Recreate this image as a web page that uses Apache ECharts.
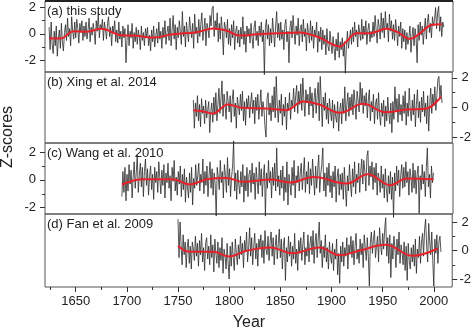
<!DOCTYPE html>
<html><head><meta charset="utf-8">
<script src="https://cdn.jsdelivr.net/npm/echarts@6/dist/echarts.min.js"></script>
<style>html,body{margin:0;padding:0;background:#fff}#c{width:474px;height:329px}</style>
</head><body><div id="c"></div>
<script>
// ---------- data ----------
const xTicks = [1650,1700,1750,1800,1850,1900,1950,2000];
const xMinorTicks = [1625,1675,1725,1775,1825,1875,1925,1975];
const yTicks = [-2,0,2];
const yMinorTicks = [-1,1];
const panelLabels = ['(a) this study','(b) Xing et al. 2014','(c) Wang et al. 2010','(d) Fan et al. 2009'];

const aStart = 1624;
const aVals = [0.5,-1.2,0.9,-0.8,-1.5,0.2,
-0.9,0.6,-1.7,-0.4,0.3,-1.1,0.8,-0.6,-1.3,0.1,
0.7,-0.5,1.2,-0.2,0.4,-0.9,1.3,0.2,-0.4,0.9,
-0.3,1.1,0.4,-0.7,0.8,0.1,1.0,-0.5,0.6,-0.2,
0.9,-0.4,0.3,1.2,-0.6,0.5,-0.1,0.8,0.2,-0.8,
1.0,0.2,1.6,-0.3,0.7,0.4,1.1,-0.5,0.9,0.3,
-0.4,0.8,1.3,-0.2,0.5,-0.9,0.6,0.1,1.0,-0.6,
0.3,-0.7,0.9,-0.4,0.2,-1.0,0.6,-0.3,0.4,-2.2,
-0.5,0.7,-0.9,0.2,-0.3,0.8,-1.1,0.1,-0.6,0.5,
-0.8,0.3,-0.2,-1.2,0.6,-0.5,0.1,-0.9,0.4,-0.3,
0.5,-0.9,-0.1,-1.3,0.3,-0.6,0.6,-1.0,-0.2,0.4,
-0.7,0.9,-0.4,0.2,-1.1,0.5,-0.3,1.0,-0.8,0.1,
0.6,-0.5,1.2,-0.9,0.3,1.4,-0.4,0.7,-1.2,0.5,
-0.3,1.0,0.2,-0.8,1.7,-0.2,0.6,-1.0,0.9,0.1,
-0.6,1.3,0.4,-0.3,0.8,-1.1,1.5,0.0,0.5,-0.7,
1.1,-0.2,0.7,1.6,-0.5,0.3,1.2,-0.9,0.8,0.4,
-0.3,1.4,0.6,1.9,2.1,-0.2,1.0,0.3,1.6,-0.6,
0.8,-0.4,1.3,0.2,-1.6,0.9,0.5,-0.3,1.1,-0.8,
0.4,-0.9,0.7,-0.3,1.0,-1.2,0.2,0.6,-0.7,0.3,
-1.0,0.5,-0.4,1.3,-0.8,0.2,-1.4,0.6,-0.2,0.4,
-0.7,0.8,-0.3,-1.1,0.5,1.0,-0.5,0.2,-0.9,0.6,
-0.2,0.9,-0.6,0.3,-3.1,0.5,1.1,-0.4,0.7,-0.9,
0.4,-0.7,1.2,0.1,-1.0,0.6,1.7,-0.3,0.8,-0.5,
0.9,-0.4,0.3,-1.2,0.7,1.1,-0.6,0.2,-2.2,0.5,
1.0,-0.3,1.4,0.2,-0.8,0.6,-0.1,1.2,-0.9,0.4,
0.7,-0.6,1.1,-0.2,0.4,-1.3,0.8,0.1,-0.7,1.0,
-0.5,0.6,-1.1,0.3,-0.2,0.9,-1.4,0.2,-0.6,0.5,
-1.2,0.3,-0.8,-0.1,-1.6,0.4,-0.9,-1.3,0.2,-0.7,
-1.5,-0.2,-1.1,-2.0,-0.4,-1.3,0.1,-1.8,-0.6,-1.2,
-0.3,-1.7,-0.6,-3.0,-0.9,0.2,-1.1,-0.4,0.3,-0.8,
0.5,-0.6,0.9,-0.2,0.3,-1.0,0.7,0.1,-0.5,1.1,
-0.4,0.6,-0.1,1.0,-0.8,0.3,0.8,-0.6,0.2,-0.3,
0.9,-0.2,1.4,0.3,-0.7,1.1,0.5,-0.4,1.6,0.1,
1.2,-0.3,1.7,0.4,0.8,-0.6,1.5,0.2,1.0,-0.4,
0.7,-0.5,1.1,0.3,-0.9,0.6,-0.2,0.9,-1.1,0.4,
-0.6,0.3,-1.2,0.1,-0.8,-0.3,0.6,-1.4,-0.2,0.5,
-0.9,0.4,-0.3,-2.2,0.7,-0.5,0.9,-0.1,0.6,-0.8,
0.3,1.2,-0.4,0.9,1.5,0.1,0.8,-0.3,1.3,0.6,
1.1,2.0,0.4,1.6,2.1,0.2,1.3,-0.2,0.9,0.5];
const aSmooth = [[1624,-0.33],[1635,-0.35],[1648,0.2],[1661,0.17],[1675,0.38],[1693,-0.08],[1709,-0.15],[1726,-0.28],[1745,-0.03],[1768,0.13],[1784,0.4],[1797,0.25],[1810,-0.13],[1827,-0.03],[1849,0.05],[1869,0.1],[1879,-0.05],[1891,-0.4],[1901,-0.83],[1908,-0.96],[1914,-0.58],[1924,0.05],[1937,0.05],[1953,0.38],[1963,0.17],[1976,-0.38],[1986,0.05],[1997,0.68],[2007,0.73]];

const bStart = 1765;
const bVals = [0.5,-1.4,0.3,-0.6,0.8,
-0.9,0.2,-1.3,0.6,-0.4,0.1,-1.1,0.5,-0.7,-0.2,
0.4,-1.7,-0.3,0.3,-1.0,0.7,-0.5,1.0,-0.9,0.2,
1.3,-0.4,0.6,1.8,-0.6,0.9,0.2,-0.8,1.1,0.4,
-0.3,0.8,-1.0,0.5,1.2,-0.6,0.3,-1.4,0.7,0.1,
-0.5,0.9,-0.2,1.1,-0.9,0.4,-1.2,0.6,0.0,0.8,
-0.7,0.3,1.0,-0.4,0.5,-1.1,0.7,-0.2,0.9,-0.8,
0.2,1.2,-0.6,0.4,-0.1,-1.3,-2.0,0.6,1.0,-0.5,
0.3,-0.9,0.8,-0.3,1.4,-0.7,2.1,0.1,-1.0,0.5,
-0.4,0.9,-1.2,0.2,-0.6,0.7,-1.5,0.3,-0.2,1.0,
-0.8,0.5,0.1,1.3,-0.3,0.8,1.5,-0.4,1.1,0.2,
1.6,-0.2,2.0,0.5,-0.6,1.2,0.3,0.9,-0.5,1.4,
0.1,1.0,-0.7,0.6,1.3,-0.4,0.8,1.7,-0.9,2.1,
0.4,-1.3,0.7,-0.2,1.0,-0.8,0.3,-1.1,0.6,-0.3,
-0.9,0.5,-1.4,0.2,-0.6,-1.0,0.4,-1.6,-0.2,0.3,
-1.1,0.6,-0.4,1.4,-0.9,0.2,1.0,-0.6,0.7,-0.2,
0.9,-0.5,1.2,0.3,-0.8,1.1,0.5,-0.3,1.7,0.2,
1.3,-0.4,0.8,0.1,1.0,-0.7,0.5,1.2,-0.9,0.4,
-0.3,0.9,-1.1,0.2,0.6,-0.8,1.0,-0.5,-1.2,0.3,
-0.6,0.5,-1.3,0.1,-0.9,0.7,-0.4,-1.1,0.3,-1.7,
0.4,-0.8,1.4,-0.3,0.6,-1.0,0.9,-0.5,0.2,-0.9,
0.8,-0.4,1.1,-1.2,0.3,-0.6,1.3,-0.2,-0.9,0.5,
-0.5,0.9,-1.3,0.2,1.2,-0.7,0.4,-1.0,0.7,-0.3,
1.1,-0.6,0.3,-1.1,0.8,-1.6,0.2,1.3,-0.4,0.9,
0.1,1.4,-0.2,0.8,1.9,2.1,0.6,1.5,0.3];
const bSmooth = [[1765,-0.18],[1774,-0.25],[1784,-0.41],[1799,0.2],[1813,-0.02],[1836,-0.07],[1856,-0.18],[1872,0.4],[1888,0.2],[1908,-0.36],[1931,0.25],[1953,-0.32],[1973,-0.14],[1992,-0.09],[2007,0.72]];

const cStart = 1695;
const cVals = [-1.2,0.6,-0.9,0.9,-1.5,
0.4,-0.8,1.1,-0.3,0.7,-1.3,0.2,1.3,-0.6,0.5,
1.8,-0.9,0.3,1.2,-0.5,0.9,-1.2,0.6,1.5,-0.4,
0.8,-1.1,0.2,1.0,-0.7,0.4,-1.4,0.9,-0.2,0.6,
-0.9,1.3,0.1,-1.0,0.7,-0.4,1.1,-1.3,0.5,-0.2,
1.2,-0.6,0.3,-1.5,0.9,-0.1,1.4,-0.8,0.2,-1.1,
0.6,-0.3,1.0,-1.2,0.4,-0.7,0.8,-1.6,0.2,-0.5,
-1.3,0.5,-0.9,0.9,-1.8,0.1,-0.6,1.1,-0.4,0.3,
1.2,-0.8,0.4,-0.2,1.5,-1.0,0.6,-0.4,1.0,-1.2,
0.3,1.3,-0.6,0.8,-1.1,0.5,-0.3,-2.6,0.9,0.2,
-0.7,1.4,-0.2,0.6,-1.3,1.1,0.3,-0.9,1.6,-0.4,
0.8,-1.2,0.2,1.0,2.8,-0.8,0.5,-1.4,0.7,-0.3,
-1.0,0.6,-0.5,1.1,-1.6,0.3,-0.8,0.9,-1.2,0.4,
0.7,-0.9,1.2,-0.3,0.5,-1.4,0.9,-0.1,-1.0,1.3,
-0.4,0.8,-1.2,0.3,1.1,-2.6,0.5,-0.6,1.4,-0.2,
0.6,-1.3,0.9,-0.4,1.2,-0.8,2.3,-0.5,0.3,-1.1,
0.7,-0.6,1.0,-1.5,0.2,-0.9,1.3,-1.8,0.4,-0.3,
-1.1,0.9,-0.4,1.4,-1.3,0.3,-0.2,1.0,-0.8,0.5,
1.2,-0.7,0.4,1.6,-0.9,0.6,-0.3,1.3,-1.0,0.8,
-0.4,1.5,0.2,-1.1,1.0,-0.6,0.7,1.8,-0.9,0.4,
1.1,2.3,-0.8,0.5,-1.2,0.9,-0.4,1.2,-0.9,0.3,
-1.3,0.6,-0.5,1.0,-1.6,0.2,0.8,-1.1,0.4,-0.7,
0.5,-1.4,0.9,-0.6,-1.9,0.3,-0.8,1.1,-0.3,-1.2,
0.8,-0.5,1.3,-1.0,0.4,-0.2,1.2,-0.9,0.6,1.5,
-0.3,1.4,0.6,-0.8,1.7,2.1,-0.4,1.0,0.2,1.3,
-0.7,0.9,-0.2,1.2,-1.1,0.5,0.1,-0.9,1.0,-0.6,
0.4,-1.3,0.8,-0.7,-1.6,0.3,-1.0,0.6,-1.4,0.2,
-2.7,0.5,-0.8,1.0,-0.4,0.7,-1.2,0.3,1.1,-0.6,
0.9,-0.5,1.3,-0.2,0.6,-1.1,0.8,0.2,-0.9,1.2,
-0.6,0.7,-1.0,0.4,1.0,-2.4,0.3,-0.7,1.1,-0.3,
0.6,-1.2,0.9,2.3,-0.5,0.4,-1.3,1.0,-0.2,0.5];
const cSmooth = [[1695,-0.33],[1716,0.05],[1745,0.05],[1761,-0.33],[1778,0.05],[1797,0.14],[1813,-0.14],[1840,0.02],[1859,-0.19],[1882,0.21],[1914,-0.26],[1935,0.4],[1957,-0.38],[1973,0.1],[1999,0.05]];

const dStart = 1750;
const dVals = [2.2,-0.5,2.0,0.4,-1.0,1.1,-0.3,0.6,-1.2,0.2,
0.8,-0.9,0.3,-1.3,0.6,0.1,-0.7,1.0,-0.4,0.5,
-1.1,0.7,-0.3,1.2,-0.8,0.2,-1.4,0.5,0.9,-0.6,
0.3,-1.0,1.1,-0.5,0.4,-1.5,0.8,-0.2,-0.9,0.6,
-1.2,0.2,-0.7,0.9,-1.6,0.1,-0.4,-1.3,0.5,-0.9,
-2.0,0.3,-1.1,0.6,-0.5,-1.4,0.8,-0.2,-1.0,0.4,
-0.6,1.0,-0.3,0.5,-1.2,0.7,-0.1,1.3,-0.8,0.2,
1.6,-0.4,0.9,-1.0,0.3,1.2,-0.6,0.5,-1.1,0.8,
0.2,1.1,-0.5,0.7,-0.9,1.4,0.1,-0.3,1.0,-0.7,
0.6,1.3,-0.4,0.9,-1.0,0.3,1.1,-0.6,0.5,1.5,
-0.5,0.8,-1.3,0.4,0.9,-2.1,0.2,-0.8,1.0,-0.4,
0.6,-1.1,0.3,-0.6,1.2,-0.9,0.1,-1.4,0.7,-0.2,
0.9,-0.7,0.4,1.3,-1.0,0.2,-0.4,1.1,-0.8,0.5,
1.0,-0.3,1.4,-0.9,0.6,1.2,-0.5,0.8,2.0,-0.2,
0.7,-1.2,0.3,-0.5,1.1,-0.8,0.2,-1.3,0.6,-0.4,
-0.9,0.5,-1.4,0.1,-0.6,0.8,-1.7,-0.2,-2.3,0.3,
-0.8,0.6,-1.1,0.2,-0.4,0.9,-1.3,0.4,-0.2,1.0,
-0.5,0.7,-1.0,0.3,1.2,-0.6,0.1,-0.9,0.8,-0.3,
0.5,-1.2,1.1,0.2,-0.7,0.9,-0.4,-2.5,0.6,1.3,
-0.2,0.8,1.4,-0.5,0.3,1.0,-0.8,1.6,0.4,-0.3,
1.2,0.1,1.5,2.3,-0.4,0.9,-0.9,1.1,-1.9,0.5,
-0.6,1.0,0.2,-1.2,0.8,-0.3,1.3,-0.9,0.4,-0.1,
-1.0,0.6,-1.4,0.3,-2.1,0.5,-0.7,-1.3,0.2,-0.8,
0.4,-1.1,0.8,-1.6,0.1,-0.5,1.0,-0.9,0.6,1.2,
-0.4,1.5,2.2,0.3,-0.8,1.9,0.6,-0.3,1.3,-0.7,
-2.5,0.8,-0.2,1.1,-0.9,0.6,1.0,-0.1];
const dSmooth = [[1750,0.33],[1761,-0.09],[1784,-0.09],[1800,-0.42],[1817,-0.02],[1840,0.21],[1862,-0.19],[1888,0.21],[1908,-0.33],[1927,-0.02],[1953,0.4],[1979,-0.37],[2004,0.14]];

// ---------- layout ----------
const FONT = 'Liberation Sans, Arial, Helvetica, sans-serif';
const panels = [
  {start:aStart, vals:aVals, smooth:aSmooth, top:1,   h:71, min:-2.9,  max:2.5,  pos:'left'},
  {start:bStart, vals:bVals, smooth:bSmooth, top:72,  h:71, min:-2.4,  max:2.4,  pos:'right'},
  {start:cStart, vals:cVals, smooth:cSmooth, top:143, h:71, min:-2.45, max:2.65, pos:'left'},
  {start:dStart, vals:dVals, smooth:dSmooth, top:214, h:73, min:-2.56, max:2.56, pos:'right'}
];
const grid=[], xAxis=[], yAxis=[], series=[], graphic=[];
panels.forEach((p,i)=>{
  grid.push({left:45, right:21, top:p.top, height:p.h, show:true, borderColor:'#555', borderWidth:1, backgroundColor:'transparent'});
  const last = i===3;
  xAxis.push({gridIndex:i, type:'value', min:1620, max:2018, position:'bottom',
    axisLine:{show:false, onZero:false}, splitLine:{show:false},
    axisTick:{show:last, customValues:xTicks, length:5, lineStyle:{color:'#333'}},
    axisLabel:{show:last, customValues:xTicks, formatter:v=>String(v), margin:8, fontSize:13, color:'#222', fontFamily:FONT}});
  const isLeft = p.pos==='left';
  yAxis.push({gridIndex:i, type:'value', min:p.min, max:p.max, position:p.pos,
    axisLine:{show:false, onZero:false}, splitLine:{show:false},
    axisTick:{show:true, customValues:yTicks, length:5, lineStyle:{color:'#333'}},
    axisLabel:{customValues:yTicks, formatter:v=>String(v), margin:isLeft?9:13, align:isLeft?'right':'center', fontSize:13, color:'#222', fontFamily:FONT}});
  yAxis.push({gridIndex:i, type:'value', min:p.min, max:p.max, position:p.pos,
    axisLine:{show:false, onZero:false}, splitLine:{show:false},
    axisTick:{show:true, customValues:yMinorTicks, length:3, lineStyle:{color:'#333'}},
    axisLabel:{show:false}});
  series.push({type:'line', xAxisIndex:i, yAxisIndex:2*i, clip:false, showSymbol:false, silent:true,
    data:p.vals.map((v,k)=>[p.start+k, v]),
    lineStyle:{color:'#2a2a2a', width:0.8}, z:2});
  series.push({type:'line', xAxisIndex:i, yAxisIndex:2*i, showSymbol:false, silent:true, smooth:0.4,
    data:p.smooth, lineStyle:{color:'#e8202a', width:2}, z:3});
  graphic.push({type:'text', left:47, top:p.top+4, style:{text:panelLabels[i], font:'13px '+FONT, fill:'#222'}});
});
xAxis.push({gridIndex:3, type:'value', min:1620, max:2018, position:'bottom',
  axisLine:{show:false, onZero:false}, splitLine:{show:false},
  axisTick:{show:true, customValues:xMinorTicks, length:3, lineStyle:{color:'#333'}},
  axisLabel:{show:false}});
graphic.push({type:'rect', shape:{x:45, y:0, width:408, height:2}, style:{fill:'#222'}});
graphic.push({type:'text', x:8, y:137, rotation:Math.PI/2, style:{text:'Z-scores', font:'16px '+FONT, fill:'#222', align:'center', verticalAlign:'middle'}});
graphic.push({type:'text', x:249, y:323, style:{text:'Year', font:'16px '+FONT, fill:'#222', align:'center', verticalAlign:'middle'}});

const chart = echarts.init(document.getElementById('c'), null, {renderer:'canvas'});
chart.setOption({animation:false, backgroundColor:'#fff', grid, xAxis, yAxis, series, graphic});
</script></body></html>
